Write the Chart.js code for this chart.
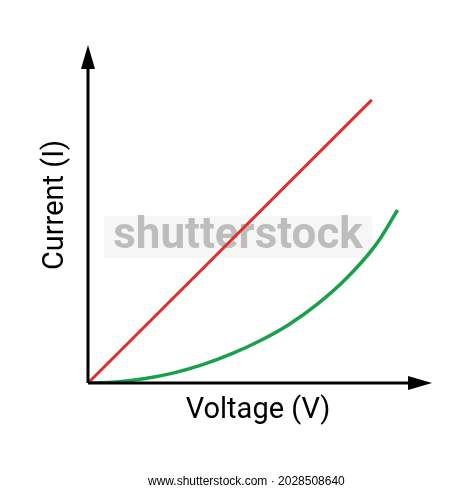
<!DOCTYPE html>
<html><head><meta charset="utf-8">
<script src="https://cdn.jsdelivr.net/npm/chart.js@4"></script>
<style>html,body{margin:0;padding:0;background:#fff}#c{display:block}</style>
</head><body>
<div style="width:474px;height:489px"><canvas id="c" width="474" height="489"></canvas></div>
<script>
const ohmicX = [0, 9.9];
const ohmicY = [0, 10.05];
const nonOhmicX = [0, 1, 2, 3, 4, 5, 6, 7, 8, 9, 10, 10.8];
const nonOhmicY = [0, 0.04, 0.16, 0.36, 0.65, 1.03, 1.5, 2.07, 2.8, 3.7, 4.85, 6.14];
const xLabel = "Voltage (V)";
const yLabel = "Current (I)";

const axesPlugin = {
  id: 'axes',
  beforeDatasetsDraw(chart) {
    const {ctx} = chart;
    ctx.save();
    ctx.fillStyle = '#f6f6f6';
    ctx.fillRect(104, 216, 268, 42);
    ctx.fillStyle = '#bdbdbd';
    ctx.font = 'bold 44px Roboto';
    ctx.textAlign = 'center'; ctx.textBaseline = 'middle';
    ctx.fillText('shutterstock', 238, 237);
    ctx.restore();
  },
  afterDatasetsDraw(chart) {
    const {ctx, chartArea: a} = chart;
    ctx.save();
    ctx.strokeStyle = '#000'; ctx.fillStyle = '#000'; ctx.lineWidth = 3;
    ctx.beginPath();
    ctx.moveTo(a.left, a.bottom); ctx.lineTo(a.right - 12, a.bottom);
    ctx.moveTo(a.left, a.bottom); ctx.lineTo(a.left, a.top + 12);
    ctx.stroke();
    ctx.beginPath();
    ctx.moveTo(a.right, a.bottom); ctx.lineTo(a.right - 24, a.bottom - 7); ctx.lineTo(a.right - 24, a.bottom + 7); ctx.closePath(); ctx.fill();
    ctx.beginPath();
    ctx.moveTo(a.left, a.top); ctx.lineTo(a.left - 7, a.top + 24); ctx.lineTo(a.left + 7, a.top + 24); ctx.closePath(); ctx.fill();
    ctx.font = '29px Roboto';
    ctx.textAlign = 'center'; ctx.textBaseline = 'middle';
    ctx.fillText(xLabel, 258, 411);
    ctx.translate(56, 205); ctx.rotate(-Math.PI / 2);
    ctx.fillText(yLabel, 0, 0);
    ctx.restore();
    ctx.save();
    ctx.fillStyle = '#fff'; ctx.fillRect(0, 450, 474, 39);
    ctx.fillStyle = '#000'; ctx.font = '12px Arial, Liberation Sans';
    ctx.textAlign = 'left'; ctx.textBaseline = 'middle';
    ctx.fillText('www.shutterstock.com · 2028508640', 148, 482);
    ctx.restore();
  }
};

new Chart(document.getElementById('c'), {
  type: 'scatter',
  data: {
    datasets: [
      {data: ohmicX.map((x, i) => ({x, y: ohmicY[i]})), showLine: true, borderColor: '#e0302b', borderWidth: 3, pointRadius: 0},
      {data: nonOhmicX.map((x, i) => ({x, y: nonOhmicY[i]})), showLine: true, borderColor: '#1aa04b', borderWidth: 3.5, pointRadius: 0, tension: 0.4}
    ]
  },
  options: {
    responsive: false, animation: false,
    layout: {padding: {left: 88, right: 42, top: 45, bottom: 106}},
    plugins: {legend: {display: false}, tooltip: {enabled: false}},
    scales: {
      x: {type: 'linear', min: 0, max: 12, display: false},
      y: {type: 'linear', min: 0, max: 12, display: false}
    }
  },
  plugins: [axesPlugin]
});
</script>
</body></html>
